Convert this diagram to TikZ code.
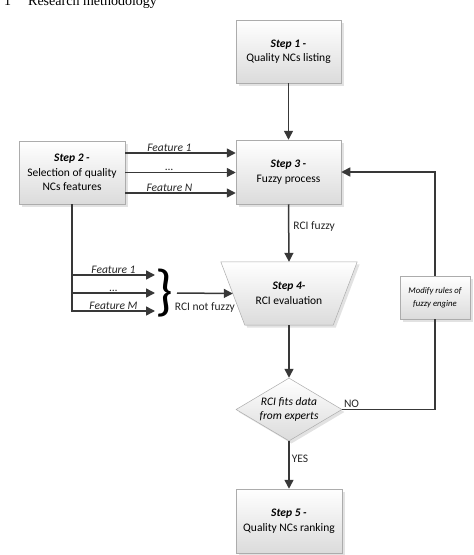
\documentclass[tikz,border=0pt]{standalone}
\usepackage{fontspec}
\setmainfont{Carlito}
\newfontfamily\titlefont{Liberation Serif}
\usetikzlibrary{arrows.meta,shadows,shapes.geometric,backgrounds}
\tikzset{
  boxshade/.style={draw=gray!65, line width=0.5pt, top color=white, bottom color=gray!28,
    drop shadow={shadow xshift=2.5pt, shadow yshift=-2.5pt, fill=gray!45}},
  stepbox/.style={boxshade, align=center, inner sep=0pt, font=\fontsize{11.5}{14.5}\selectfont},
  flow/.style={draw=black!78, line width=1.5pt, -{Triangle[length=9pt,width=9pt]}},
  wire/.style={draw=black!78, line width=1.5pt},
  lab/.style={font=\fontsize{11.5}{14}\selectfont, inner sep=1pt, text=black!85},
}
\newcommand{\stepname}[1]{\textbf{\textit{#1}}}
\begin{document}
\begin{tikzpicture}[x=1pt,y=-1pt]
                \useasboundingbox (0,0) rectangle (474,555);
                
                % Marking title
                \node [anchor=base west, inner sep=0pt, font=\titlefont\fontsize{14}{14}\selectfont] (title) at (4,5) {1\hspace{17pt}Research methodology};%
                
                % Drawing boxes Step 1, Step 2, Step 3, Step 5
                \node [stepbox, minimum width=105pt, minimum height=63pt] (step1) at (288.5,51.5) {\stepname{Step 1 -}\\Quality NCs listing};%
                \node [stepbox, minimum width=106pt, minimum height=63pt] (step2) at (72,172.5) {\stepname{Step 2 -}\\Selection of quality\\NCs features};%
                \node [stepbox, minimum width=105pt, minimum height=64pt] (step3) at (288.5,172) {\stepname{Step 3 -}\\Fuzzy process};%
                \node [stepbox, minimum width=106pt, minimum height=64pt] (step5) at (289,521) {\stepname{Step 5 -}\\Quality NCs ranking};%
                
                % Drawing trapezium Step 4
                \node [align=center, inner sep=0pt, minimum width=136pt, minimum height=63pt, font=\fontsize{11.5}{14.5}\selectfont] (step4) at (289,293.5) {\stepname{Step 4-}\\RCI evaluation};%
                \begin{scope}[on background layer]
                \path [boxshade] (step4.north west) -- (step4.north east) -- ([xshift=-24pt]step4.south east) -- ([xshift=24pt]step4.south west) -- cycle;%
                \end{scope}
                
                % Drawing decision
                \node [diamond, boxshade, aspect=1.68, inner sep=0pt, minimum width=106pt, minimum height=63pt, align=center, font=\itshape\fontsize{11.5}{14.5}\selectfont] (fits) at (289,409.5) {RCI fits data\\from experts};%
                
                % Drawing box Modify rules
                \node [stepbox, minimum width=70pt, minimum height=43pt, font=\itshape\fontsize{8.7}{12.5}\selectfont] (modify) at (435,297.5) {Modify rules of\\fuzzy engine};%
                
                % Drawing arrows Step 1 Step 3 Step 4
                \draw [flow] (step1.south) -- (step3.north);%
                \draw [flow] (step3.south) -- (step4.north) node [pos=0.38, right=3pt, lab] {RCI fuzzy};%
                \draw [flow] (step4.south) -- (fits.north);%
                \draw [flow] (fits.south) -- (step5.north) node [pos=0.37, right=1pt, lab] {YES};%
                
                % Drawing features Step 2 Step 3
                \draw [flow] ([yshift=19.5pt]step2.east) -- ([yshift=19.5pt]step2.east -| step3.west) node [pos=0.4, above, lab] {\textit{Feature 1}};%
                \draw [flow] (step2.east) -- (step2.east -| step3.west) node [pos=0.4, above, lab] {\textit{\dots}};%
                \draw [flow] ([yshift=-20.5pt]step2.east) -- ([yshift=-20.5pt]step2.east -| step3.west) node [pos=0.4, above, lab] {\textit{Feature N}};%
                
                % Drawing features Step 2 brace
                \coordinate (m1) at (155,275);%
                \coordinate (m2) at (155,293);%
                \coordinate (m3) at (155,311);%
                \draw [flow] (step2.south |- m1) -- (m1) node [midway, above, lab] {\textit{Feature 1}};%
                \draw [flow] (step2.south |- m2) -- (m2) node [midway, above, lab] {\textit{\dots}};%
                \draw [flow] (step2.south) |- (m3) node [pos=0.75, above, lab] {\textit{Feature M}};%
                \node [inner sep=0pt, font=\fontsize{56}{56}\selectfont] (brace) at (164,293) {\}};%
                \coordinate (bracetip) at (177,293);%
                \draw [flow] (bracetip) -- ([xshift=12pt]step4.west) node [midway, below=8pt, lab] {RCI not fuzzy};%
                
                % Drawing loop NO
                \draw [wire] (fits.east) node [above right, lab] {NO} -| (modify.south);%
                \draw [flow] (modify.north) |- (step3.east);%
            \end{tikzpicture}
\end{document}
